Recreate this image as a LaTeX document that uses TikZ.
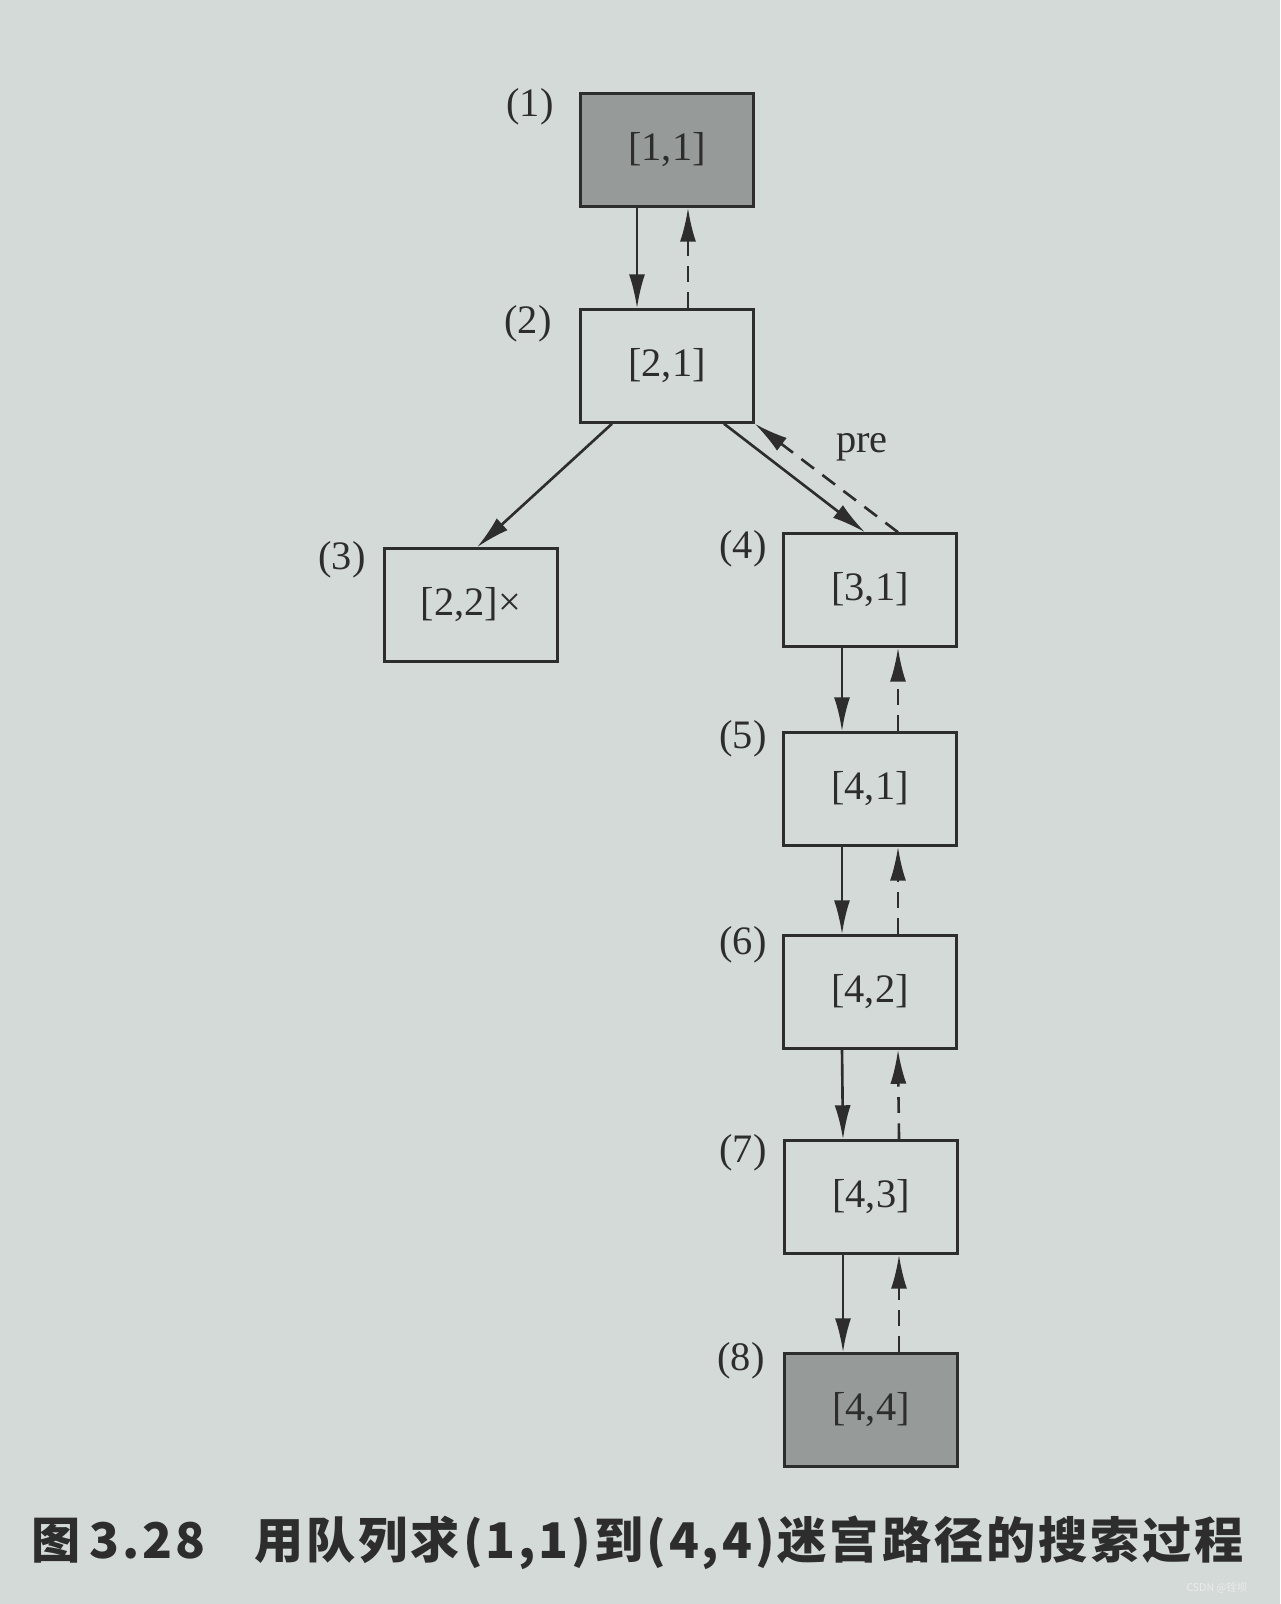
\documentclass[tikz,border=0pt]{standalone}
\usepackage{fontspec}
\setmainfont{Liberation Serif}
\newfontfamily\cjk{Noto Sans CJK SC}
\usetikzlibrary{arrows.meta}
\definecolor{paper}{RGB}{212,218,216}
\definecolor{shade}{RGB}{150,154,153}
\definecolor{ink}{RGB}{45,45,45}
\tikzset{
  cell/.style={draw=ink, line width=1.7pt, fill=paper, minimum width=3.45cm, minimum height=2.25cm, text=ink, font=\fontsize{23}{27}\selectfont},
  endcell/.style={cell, fill=shade},
  tag/.style={text=ink, font=\fontsize{23}{27}\selectfont},
  go/.style={draw=ink, line width=1.5pt, -{Latex[length=0.68cm,width=0.32cm]}},
  back/.style={go, dash pattern=on 9pt off 6pt},
}
\begin{document}
\begin{tikzpicture}[x=0.02cm,y=-0.02cm]
        \fill[paper] (0,0) rectangle (1280,1604);
        \useasboundingbox (0,0) rectangle (1280,1604);

            % queue cells
            \node[endcell] (n1) at (667,150) {[1,1]};
            \node[cell] (n2) at (667,366) {[2,1]};
            \node[cell] (n3) at (471,605) {[2,2]×};
            \node[cell] (n4) at (870,590) {[3,1]};
            \node[cell] (n5) at (870,789) {[4,1]};
            \node[cell] (n6) at (870,992) {[4,2]};
            \node[cell] (n7) at (871,1197) {[4,3]};
            \node[endcell] (n8) at (871,1410) {[4,4]};

            \node[tag] (t1) at (530,107) {(1)};
            \node[tag] (t2) at (528,324) {(2)};
            \node[tag] (t3) at (342,560) {(3)};
            \node[tag] (t4) at (743,549) {(4)};
            \node[tag] (t5) at (743,739) {(5)};
            \node[tag] (t6) at (743,945) {(6)};
            \node[tag] (t7) at (743,1153) {(7)};
            \node[tag] (t8) at (741,1361) {(8)};

            % search steps and pre links
            \draw[go] ([xshift=-0.6cm]n1.south) -- ([xshift=-0.6cm]n2.north);
            \draw[back] ([xshift=0.42cm]n2.north) -- ([xshift=0.42cm]n1.south);
            \draw[go] ([xshift=-1.1cm]n2.south) -- ([xshift=0.12cm]n3.north);
            \draw[go] ([xshift=1.14cm]n2.south) -- ([xshift=-0.1cm]n4.north);
            \draw[back] ([xshift=0.56cm]n4.north) -- (n2.south east);
            \node[tag] (pre) at (862,447) {pre};

            \draw[go] ([xshift=-0.56cm]n4.south) -- ([xshift=-0.56cm]n5.north);
            \draw[back] ([xshift=0.56cm]n5.north) -- ([xshift=0.56cm]n4.south);
            \draw[go] ([xshift=-0.56cm]n5.south) -- ([xshift=-0.56cm]n6.north);
            \draw[back] ([xshift=0.56cm]n6.north) -- ([xshift=0.56cm]n5.south);
            \draw[go] ([xshift=-0.56cm]n6.south) -- ([xshift=-0.56cm]n7.north);
            \draw[back] ([xshift=0.56cm]n7.north) -- ([xshift=0.56cm]n6.south);
            \draw[go] ([xshift=-0.56cm]n7.south) -- ([xshift=-0.56cm]n8.north);
            \draw[back] ([xshift=0.56cm]n8.north) -- ([xshift=0.56cm]n7.south);

            % caption
            \node[text=ink, font=\cjk\bfseries\fontsize{28}{30}\selectfont\addfontfeatures{LetterSpace=6}] (caption) at (638,1543) {图\,3.28\quad 用队列求(1,1)到(4,4)迷宫路径的搜索过程};
            \node[text=white!85!gray, font=\cjk\fontsize{6}{7}\selectfont] (mark) at (1217,1588) {CSDN @铨坝};
\end{tikzpicture}
\end{document}
